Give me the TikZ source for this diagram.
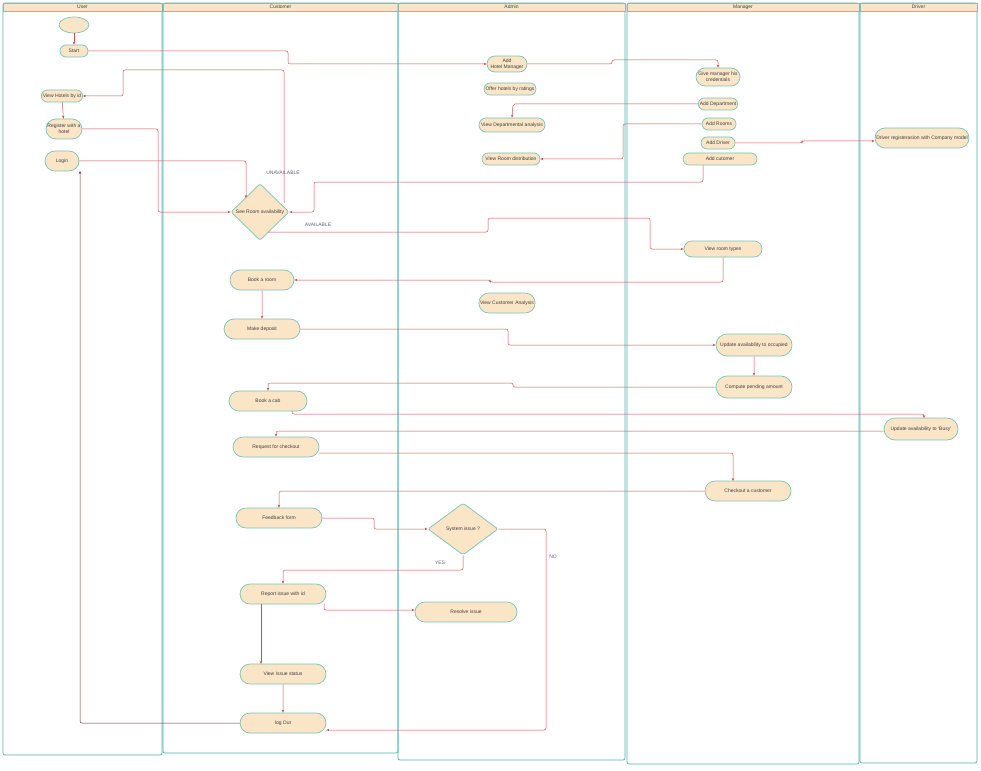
\documentclass[tikz,border=0pt]{standalone}
\usepackage{fontspec}
\setmainfont{Liberation Sans}
\usetikzlibrary{shapes.geometric,arrows.meta}
\definecolor{fillc}{RGB}{250,229,199}
\definecolor{bordc}{RGB}{120,195,180}
\definecolor{lanec}{RGB}{80,175,170}
\definecolor{edgec}{RGB}{200,80,80}
\definecolor{labc}{RGB}{90,100,110}
\tikzset{
 x=1pt,y=-1pt,
 every node/.style={font=\fontsize{5}{6}\selectfont,text=black!75,align=center,inner sep=1pt},
 act/.style={draw=bordc,fill=fillc,rounded rectangle,line width=0.7pt,minimum height=#1},
 act/.default=20,
 dec/.style={draw=bordc,fill=fillc,diamond,line width=0.7pt,rounded corners=2pt},
 lane/.style={draw=lanec,line width=0.7pt,rounded corners=2pt},
 hdr/.style={draw=bordc,fill=fillc,line width=0.5pt},
 flow/.style={draw=edgec,line width=0.5pt,rounded corners=2pt,-{Stealth[length=3pt,width=2.5pt]}},
 lab/.style={text=labc}
}
\usetikzlibrary{shapes.misc}
\begin{document}
\begin{tikzpicture}
\useasboundingbox (0,0) rectangle (981,770);
% lanes
\foreach \a/\b/\c/\t in {3/162/755/User,163/398/753/Customer,398/625/760/Admin,627/859/764/Manager,860/977/763/Driver}{
 \draw[lane] (\a,3) rectangle (\b,\c);
 \draw[hdr] (\a,3) rectangle (\b,11);
 \node at ({(\a+\b)/2},7) {\t};
}
\node[draw=bordc,fill=fillc,ellipse,line width=0.7pt,minimum width=30,minimum height=16] (s0) at (74,25) {};
\node[act=12,minimum width=30] (start) at (74,51) {Start};
\node[act=12,minimum width=40] (vh) at (62,96) {View Hotels by id};
\node[act=20,minimum width=38] (reg) at (64,129) {Register with a\\hotel};
\node[act=20,minimum width=36] (login) at (62,161) {Login};
\node[dec,minimum width=58,minimum height=48] (see) at (260,212) {See Room availability};
\node[act=16,minimum width=42] (ahm) at (507,64) {Add\\Hotel Manager};
\node[act=18,minimum width=38] (give) at (718,77) {Give manager his\\credentials};
\node[act=12,minimum width=54] (offer) at (510,89) {Offer hotels by ratings};
\node[act=12,minimum width=36] (adept) at (718,104) {Add Department};
\node[act=14,minimum width=68] (vdept) at (512,125) {View Departmental analysis};
\node[act=12,minimum width=36] (arooms) at (719,124) {Add Rooms};
\node[act=12,minimum width=36] (adriver) at (718,143) {Add Driver};
\node[act=12,minimum width=76] (acust) at (720,159) {Add cutomer};
\node[act=12,minimum width=60] (vrd) at (511,159) {View Room distribution};
\node[act=20,minimum width=96] (dreg) at (922,138) {Driver registerasion with Company model};
\node[act=16,minimum width=80] (vrt) at (723,249) {View room types};
\node[act=20,minimum width=66] (book) at (262,280) {Book a room};
\node[act=20,minimum width=54] (vca) at (507,303) {View Customer Analysis};
\node[act=20,minimum width=78] (dep) at (262,329) {Make deposit};
\node[act=22,minimum width=78] (upd) at (754,345) {Update availability to occupied};
\node[act=22,minimum width=78] (comp) at (754,387) {Compute pending amount};
\node[act=20,minimum width=80] (cab) at (268,401) {Book a cab};
\node[act=22,minimum width=76] (busy) at (921,429) {Update availability to `Busy'};
\node[act=20,minimum width=88] (req) at (276,447) {Request for checkout};
\node[act=20,minimum width=88] (chk) at (748,491) {Checkout a customer};
\node[act=20,minimum width=88] (fb) at (279,518) {Feedback form};
\node[dec,minimum width=70,minimum height=52] (sys) at (463,529) {System issue ?};
\node[act=20,minimum width=88] (rep) at (283,594) {Report issue with id};
\node[act=20,minimum width=104] (res) at (466,612) {Resolve issue};
\node[act=20,minimum width=88] (vis) at (283,674) {View Issue status};
\node[act=20,minimum width=88] (out) at (283,723) {log Out};
% labels
\node[lab] at (283,173) {UNAVAILABLE};
\node[lab] at (318,225) {AVAILABLE};
\node[lab] at (440,563) {YES};
\node[lab] at (553,557) {NO};
% edges
\draw[flow] (s0) -- (start);
\draw[flow] (start.east) -- (288,51) -- (288,64) -- (ahm.west);
\draw[flow] (ahm.east) -- (612,64) -- (612,60) -- (718,60) -- (give.north);
\draw[flow] (284,203) -- (284,70) -- (123,70) -- (123,96) -- (vh.east);
\draw[flow] (vh) -- (reg);
\draw[flow] (reg.east) -- (158,129) -- (158,212) -- (see.west);
\draw[flow] (login.east) -- (246,161) -- (246,198);
\draw[flow] (adept.west) -- (513,104) -- (vdept.north);
\draw[flow] (arooms.west) -- (623,124) -- (623,159) -- (vrd.east);
\draw[flow] (adriver.east) -- (802,143) -- (802,141) -- (dreg.west |- 0,141);
\draw[flow] (acust.south -| 703,0) -- (703,182) -- (314,182) -- (314,212) -- (see.east);
\draw[flow] (268,232) -- (488,232) -- (488,218) -- (650,218) -- (650,249) -- (vrt.west);
\draw[flow] (vrt.south) -- (723,282) -- (490,282) -- (490,280) -- (book.east);
\draw[flow] (book) -- (dep);
\draw[flow] (dep.east) -- (508,329) -- (508,345) -- (upd.west);
\draw[flow] (upd) -- (comp);
\draw[flow] (comp.west) -- (513,387) -- (513,383) -- (268,383) -- (cab.north);
\draw[flow] (292,411) -- (292,414) -- (924,414) -- (924,418);
\draw[flow] (busy.west |- 0,431) -- (276,431) -- (req.north);
\draw[flow] (req.east |- 0,453) -- (733,453) -- (733,481);
\draw[flow] (chk.west) -- (279,491) -- (fb.north);
\draw[flow] (fb.east) -- (374,518) -- (374,529) -- (sys.west);
\draw[flow] (sys.south) -- (463,570) -- (283,570) -- (rep.north);
\draw[flow] (sys.east) -- (546,529) -- (546,730) -- (out.east |- 0,730);
\draw[flow] (324,604) -- (324,610) -- (res.west |- 0,610);
\draw[flow] (261,604) -- (261,664);
\draw[flow] (vis) -- (out);
\draw[flow,draw=edgec!60!black] (out.west) -- (80,723) -- (80,171);
\end{tikzpicture}
\end{document}
